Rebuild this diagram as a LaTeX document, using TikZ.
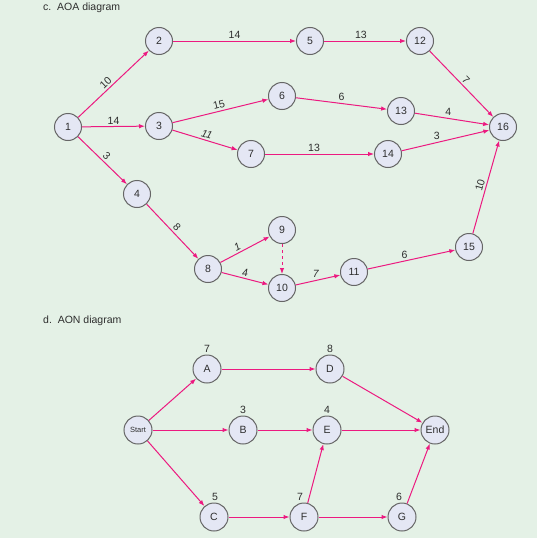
\documentclass[tikz,border=0pt]{standalone}
\usepackage{fontspec}
\setmainfont{Liberation Sans}
\usetikzlibrary{arrows.meta}
\definecolor{bgcol}{HTML}{E4F1E6}
\definecolor{arrcol}{HTML}{EC1A80}
\definecolor{evfill}{HTML}{E4E7F4}
\definecolor{txtcol}{HTML}{2E2E2E}
\begin{document}
\begin{tikzpicture}[x=1pt,y=-1pt,
		ev/.style={circle,draw=black!60,fill=evfill,line width=1pt,minimum size=27pt,inner sep=0pt,text=txtcol,font=\fontsize{10.5}{10.5}\selectfont},
		act/.style={draw=arrcol,line width=1pt,-{Latex[length=6pt,width=4.5pt]}},
		lbl/.style={text=txtcol,font=\fontsize{10.5}{10.5}\selectfont,inner sep=2pt}]
		\fill [bgcol] (0,0) rectangle (537,538);
		\useasboundingbox (0,0) rectangle (537,538);
		
		% c. AOA diagram
		\node [lbl,anchor=west] (titleC) at (41,8) {c.\ \ AOA diagram};
		\node [ev] (n1) at (68,127) {1};
		\node [ev] (n2) at (159,41) {2};
		\node [ev] (n3) at (159,126) {3};
		\node [ev] (n4) at (137,194) {4};
		\node [ev] (n5) at (310,41) {5};
		\node [ev] (n6) at (282,96) {6};
		\node [ev] (n7) at (251,154) {7};
		\node [ev] (n8) at (208,269) {8};
		\node [ev] (n9) at (282,230) {9};
		\node [ev] (n10) at (282,288) {10};
		\node [ev] (n11) at (354,272) {11};
		\node [ev] (n12) at (420,41) {12};
		\node [ev] (n13) at (401,111) {13};
		\node [ev] (n14) at (388,154) {14};
		\node [ev] (n15) at (469,247) {15};
		\node [ev] (n16) at (503,127) {16};
		
		\draw [act] (n1) -- node [lbl,above,sloped,pos=.45] {10} (n2);
		\draw [act] (n1) -- node [lbl,above] {14} (n3);
		\draw [act] (n1) -- node [lbl,above,sloped] {3} (n4);
		\draw [act] (n2) -- node [lbl,above] {14} (n5);
		\draw [act] (n5) -- node [lbl,above,pos=.45] {13} (n12);
		\draw [act] (n3) -- node [lbl,above,sloped] {15} (n6);
		\draw [act] (n3) -- node [lbl,above,sloped] {\itshape 11} (n7);
		\draw [act] (n4) -- node [lbl,above,sloped] {8} (n8);
		\draw [act] (n6) -- node [lbl,above] {6} (n13);
		\draw [act] (n7) -- node [lbl,above,pos=.45] {13} (n14);
		\draw [act] (n12) -- node [lbl,above,sloped] {7} (n16);
		\draw [act] (n13) -- node [lbl,above,pos=.45] {4} (n16);
		\draw [act] (n14) -- node [lbl,above,pos=.4] {3} (n16);
		\draw [act] (n15) -- node [lbl,above,sloped] {10} (n16);
		\draw [act] (n8) -- node [lbl,above,sloped,pos=.4] {\itshape 1} (n9);
		\draw [act] (n8) -- node [lbl,above] {\itshape 4} (n10);
		\draw [act,dashed] (n9) -- (n10);
		\draw [act] (n10) -- node [lbl,above,pos=.45] {\itshape 7} (n11);
		\draw [act] (n11) -- node [lbl,above,pos=.42] {6} (n15);
		
		% d. AON diagram
		\node [lbl,anchor=west] (titleD) at (41,321) {d.\ \ AON diagram};
		\node [ev,minimum size=28pt,font=\fontsize{7.5}{7.5}\selectfont] (start) at (138,430) {Start};
		\node [ev,minimum size=28pt,label={[lbl]above:7}] (A) at (207,369) {A};
		\node [ev,minimum size=28pt,label={[lbl]above:3}] (B) at (243,430) {B};
		\node [ev,minimum size=28pt,label={[lbl,xshift=1pt]above:5}] (C) at (214,517) {C};
		\node [ev,minimum size=28pt,label={[lbl]above:8}] (D) at (330,369) {D};
		\node [ev,minimum size=28pt,label={[lbl]above:4}] (E) at (327,430) {E};
		\node [ev,minimum size=28pt,label={[lbl,xshift=-4pt]above:7}] (F) at (304,517) {F};
		\node [ev,minimum size=28pt,label={[lbl,xshift=-3pt]above:6}] (G) at (402,517) {G};
		\node [ev,minimum size=28pt] (end) at (435,430) {End};
		
		\draw [act] (start) -- (A);
		\draw [act] (start) -- (B);
		\draw [act] (start) -- (C);
		\draw [act] (A) -- (D);
		\draw [act] (B) -- (E);
		\draw [act] (C) -- (F);
		\draw [act] (F) -- (E);
		\draw [act] (F) -- (G);
		\draw [act] (D) -- (end);
		\draw [act] (E) -- (end);
		\draw [act] (G) -- (end);
\end{tikzpicture}
\end{document}
